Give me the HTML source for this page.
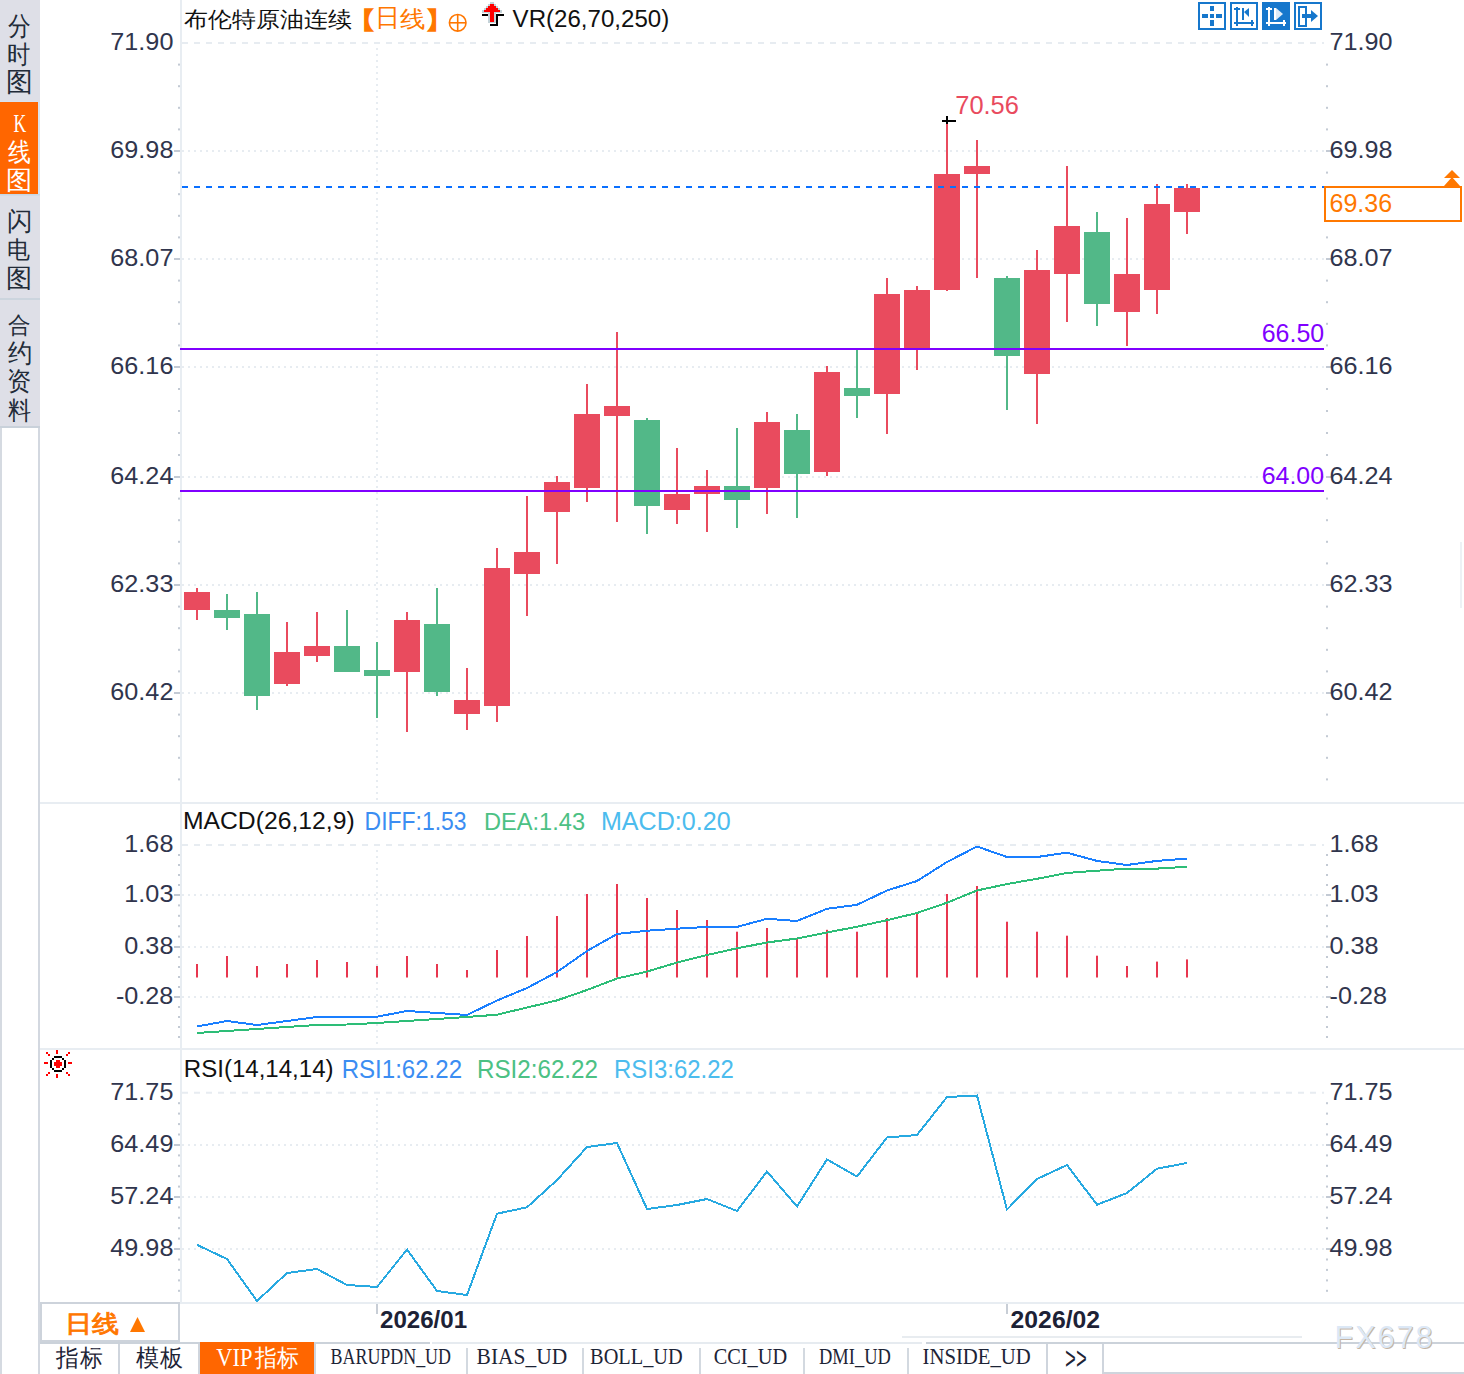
<!DOCTYPE html>
<html><head><meta charset="utf-8">
<style>
html,body{margin:0;padding:0;background:#fff;width:1464px;height:1374px;overflow:hidden;}
svg{position:absolute;left:0;top:0;font-family:"Liberation Sans",sans-serif;}
</style></head>
<body>
<svg width="1464" height="1374" viewBox="0 0 1464 1374">
<rect x="0" y="0" width="40" height="428" fill="#dedfe7"/>
<rect x="0" y="102" width="38" height="92" fill="#ff6600"/>
<rect x="0" y="101" width="40" height="1" fill="#d9e3ee"/>
<rect x="38" y="102" width="2" height="92" fill="#d9e3ee"/>
<rect x="0" y="194" width="40" height="1.5" fill="#c8d7e4"/>
<rect x="0" y="298" width="40" height="2" fill="#ccd5de"/>
<rect x="0" y="426" width="40" height="2" fill="#c9d1da"/>
<rect x="0" y="428" width="2" height="946" fill="#d5dae1"/>
<rect x="38" y="428" width="2" height="946" fill="#d3d8e0"/>
<text transform="translate(8.0,34.73) scale(0.9565,1.0909)" font-size="24" font-weight="normal" style='font-family:"Liberation Sans",sans-serif' fill="#222b38" >分</text>
<text transform="translate(7.04,62.52) scale(0.9565,1.0261)" font-size="24" font-weight="normal" style='font-family:"Liberation Sans",sans-serif' fill="#222b38" >时</text>
<text transform="translate(5.8,91.07) scale(1.1,1.1091)" font-size="24" font-weight="normal" style='font-family:"Liberation Sans",sans-serif' fill="#222b38" >图</text>
<text transform="translate(13.6,132.0) scale(0.8,1.1429)" font-size="22" font-weight="normal" style='font-family:"Liberation Serif",serif' fill="#ffffff" >K</text>
<text transform="translate(8.0,160.74) scale(0.9565,1.087)" font-size="24" font-weight="normal" style='font-family:"Liberation Sans",sans-serif' fill="#ffffff" >线</text>
<text transform="translate(5.8,188.73) scale(1.1,1.0909)" font-size="24" font-weight="normal" style='font-family:"Liberation Sans",sans-serif' fill="#ffffff" >图</text>
<text transform="translate(6.95,230.38) scale(1.0476,1.0727)" font-size="24" font-weight="normal" style='font-family:"Liberation Sans",sans-serif' fill="#222b38" >闪</text>
<text transform="translate(7.04,258.0) scale(0.9565,1.0)" font-size="24" font-weight="normal" style='font-family:"Liberation Sans",sans-serif' fill="#222b38" >电</text>
<text transform="translate(5.8,286.73) scale(1.1,1.0909)" font-size="24" font-weight="normal" style='font-family:"Liberation Sans",sans-serif' fill="#222b38" >图</text>
<text transform="translate(8.0,333.1) scale(0.9565,0.975)" font-size="24" font-weight="normal" style='font-family:"Liberation Sans",sans-serif' fill="#222b38" >合</text>
<text transform="translate(8.0,362.3) scale(1.0,1.0682)" font-size="24" font-weight="normal" style='font-family:"Liberation Sans",sans-serif' fill="#222b38" >约</text>
<text transform="translate(7.0,390.38) scale(1.0,1.0727)" font-size="24" font-weight="normal" style='font-family:"Liberation Sans",sans-serif' fill="#222b38" >资</text>
<text transform="translate(8.0,418.7) scale(0.9565,1.0348)" font-size="24" font-weight="normal" style='font-family:"Liberation Sans",sans-serif' fill="#222b38" >料</text>
<rect x="40" y="802" width="1424" height="2" fill="#e8edf2"/>
<rect x="40" y="1048" width="1424" height="2" fill="#e8edf2"/>
<rect x="40" y="1302" width="1424" height="2" fill="#e8edf2"/>
<rect x="180" y="0" width="2" height="1302" fill="#e8edf2"/>
<line x1="182" y1="43" x2="1324" y2="43" stroke="#e7ecf1" stroke-width="2" stroke-dasharray="6 6"/>
<line x1="182" y1="151" x2="1324" y2="151" stroke="#e7ecf1" stroke-width="2" stroke-dasharray="2 4"/>
<line x1="182" y1="259" x2="1324" y2="259" stroke="#e7ecf1" stroke-width="2" stroke-dasharray="2 4"/>
<line x1="182" y1="367" x2="1324" y2="367" stroke="#e7ecf1" stroke-width="2" stroke-dasharray="2 4"/>
<line x1="182" y1="477" x2="1324" y2="477" stroke="#e7ecf1" stroke-width="2" stroke-dasharray="2 4"/>
<line x1="182" y1="585" x2="1324" y2="585" stroke="#e7ecf1" stroke-width="2" stroke-dasharray="2 4"/>
<line x1="182" y1="693" x2="1324" y2="693" stroke="#e7ecf1" stroke-width="2" stroke-dasharray="2 4"/>
<rect x="178" y="63.6" width="2" height="2" fill="#c3cad4"/>
<rect x="1326" y="63.6" width="2" height="2" fill="#c3cad4"/>
<rect x="178" y="85.2" width="2" height="2" fill="#c3cad4"/>
<rect x="1326" y="85.2" width="2" height="2" fill="#c3cad4"/>
<rect x="178" y="106.8" width="2" height="2" fill="#c3cad4"/>
<rect x="1326" y="106.8" width="2" height="2" fill="#c3cad4"/>
<rect x="178" y="128.4" width="2" height="2" fill="#c3cad4"/>
<rect x="1326" y="128.4" width="2" height="2" fill="#c3cad4"/>
<rect x="178" y="171.6" width="2" height="2" fill="#c3cad4"/>
<rect x="1326" y="171.6" width="2" height="2" fill="#c3cad4"/>
<rect x="178" y="193.2" width="2" height="2" fill="#c3cad4"/>
<rect x="1326" y="193.2" width="2" height="2" fill="#c3cad4"/>
<rect x="178" y="214.8" width="2" height="2" fill="#c3cad4"/>
<rect x="1326" y="214.8" width="2" height="2" fill="#c3cad4"/>
<rect x="178" y="236.4" width="2" height="2" fill="#c3cad4"/>
<rect x="1326" y="236.4" width="2" height="2" fill="#c3cad4"/>
<rect x="178" y="279.6" width="2" height="2" fill="#c3cad4"/>
<rect x="1326" y="279.6" width="2" height="2" fill="#c3cad4"/>
<rect x="178" y="301.2" width="2" height="2" fill="#c3cad4"/>
<rect x="1326" y="301.2" width="2" height="2" fill="#c3cad4"/>
<rect x="178" y="322.8" width="2" height="2" fill="#c3cad4"/>
<rect x="1326" y="322.8" width="2" height="2" fill="#c3cad4"/>
<rect x="178" y="344.4" width="2" height="2" fill="#c3cad4"/>
<rect x="1326" y="344.4" width="2" height="2" fill="#c3cad4"/>
<rect x="178" y="388.0" width="2" height="2" fill="#c3cad4"/>
<rect x="1326" y="388.0" width="2" height="2" fill="#c3cad4"/>
<rect x="178" y="410.0" width="2" height="2" fill="#c3cad4"/>
<rect x="1326" y="410.0" width="2" height="2" fill="#c3cad4"/>
<rect x="178" y="432.0" width="2" height="2" fill="#c3cad4"/>
<rect x="1326" y="432.0" width="2" height="2" fill="#c3cad4"/>
<rect x="178" y="454.0" width="2" height="2" fill="#c3cad4"/>
<rect x="1326" y="454.0" width="2" height="2" fill="#c3cad4"/>
<rect x="178" y="497.6" width="2" height="2" fill="#c3cad4"/>
<rect x="1326" y="497.6" width="2" height="2" fill="#c3cad4"/>
<rect x="178" y="519.2" width="2" height="2" fill="#c3cad4"/>
<rect x="1326" y="519.2" width="2" height="2" fill="#c3cad4"/>
<rect x="178" y="540.8" width="2" height="2" fill="#c3cad4"/>
<rect x="1326" y="540.8" width="2" height="2" fill="#c3cad4"/>
<rect x="178" y="562.4" width="2" height="2" fill="#c3cad4"/>
<rect x="1326" y="562.4" width="2" height="2" fill="#c3cad4"/>
<rect x="178" y="605.6" width="2" height="2" fill="#c3cad4"/>
<rect x="1326" y="605.6" width="2" height="2" fill="#c3cad4"/>
<rect x="178" y="627.2" width="2" height="2" fill="#c3cad4"/>
<rect x="1326" y="627.2" width="2" height="2" fill="#c3cad4"/>
<rect x="178" y="648.8" width="2" height="2" fill="#c3cad4"/>
<rect x="1326" y="648.8" width="2" height="2" fill="#c3cad4"/>
<rect x="178" y="670.4" width="2" height="2" fill="#c3cad4"/>
<rect x="1326" y="670.4" width="2" height="2" fill="#c3cad4"/>
<rect x="178" y="713.6" width="2" height="2" fill="#c3cad4"/>
<rect x="1326" y="713.6" width="2" height="2" fill="#c3cad4"/>
<rect x="178" y="735.2" width="2" height="2" fill="#c3cad4"/>
<rect x="1326" y="735.2" width="2" height="2" fill="#c3cad4"/>
<rect x="178" y="756.8" width="2" height="2" fill="#c3cad4"/>
<rect x="1326" y="756.8" width="2" height="2" fill="#c3cad4"/>
<rect x="178" y="778.4" width="2" height="2" fill="#c3cad4"/>
<rect x="1326" y="778.4" width="2" height="2" fill="#c3cad4"/>
<rect x="174" y="150.0" width="6" height="2" fill="#c3cad4"/>
<rect x="1326" y="150.0" width="5" height="2" fill="#c3cad4"/>
<rect x="174" y="258.0" width="6" height="2" fill="#c3cad4"/>
<rect x="1326" y="258.0" width="5" height="2" fill="#c3cad4"/>
<rect x="174" y="366.0" width="6" height="2" fill="#c3cad4"/>
<rect x="1326" y="366.0" width="5" height="2" fill="#c3cad4"/>
<rect x="174" y="476.0" width="6" height="2" fill="#c3cad4"/>
<rect x="1326" y="476.0" width="5" height="2" fill="#c3cad4"/>
<rect x="174" y="584.0" width="6" height="2" fill="#c3cad4"/>
<rect x="1326" y="584.0" width="5" height="2" fill="#c3cad4"/>
<rect x="174" y="692.0" width="6" height="2" fill="#c3cad4"/>
<rect x="1326" y="692.0" width="5" height="2" fill="#c3cad4"/>
<line x1="377" y1="48" x2="377" y2="802" stroke="#e7ecf1" stroke-width="2" stroke-dasharray="2 4"/>
<line x1="377" y1="850" x2="377" y2="1048" stroke="#e7ecf1" stroke-width="2" stroke-dasharray="2 4"/>
<line x1="377" y1="1098" x2="377" y2="1302" stroke="#e7ecf1" stroke-width="2" stroke-dasharray="2 4"/>
<text transform="translate(173.4,49.8) scale(1.05,1.03)" font-size="24" fill="#30354d" text-anchor="end">71.90</text>
<text transform="translate(1329.5,49.8) scale(1.05,1.03)" font-size="24" fill="#30354d">71.90</text>
<text transform="translate(173.4,157.8) scale(1.05,1.03)" font-size="24" fill="#30354d" text-anchor="end">69.98</text>
<text transform="translate(1329.5,157.8) scale(1.05,1.03)" font-size="24" fill="#30354d">69.98</text>
<text transform="translate(173.4,265.8) scale(1.05,1.03)" font-size="24" fill="#30354d" text-anchor="end">68.07</text>
<text transform="translate(1329.5,265.8) scale(1.05,1.03)" font-size="24" fill="#30354d">68.07</text>
<text transform="translate(173.4,373.8) scale(1.05,1.03)" font-size="24" fill="#30354d" text-anchor="end">66.16</text>
<text transform="translate(1329.5,373.8) scale(1.05,1.03)" font-size="24" fill="#30354d">66.16</text>
<text transform="translate(173.4,483.8) scale(1.05,1.03)" font-size="24" fill="#30354d" text-anchor="end">64.24</text>
<text transform="translate(1329.5,483.8) scale(1.05,1.03)" font-size="24" fill="#30354d">64.24</text>
<text transform="translate(173.4,591.8) scale(1.05,1.03)" font-size="24" fill="#30354d" text-anchor="end">62.33</text>
<text transform="translate(1329.5,591.8) scale(1.05,1.03)" font-size="24" fill="#30354d">62.33</text>
<text transform="translate(173.4,699.8) scale(1.05,1.03)" font-size="24" fill="#30354d" text-anchor="end">60.42</text>
<text transform="translate(1329.5,699.8) scale(1.05,1.03)" font-size="24" fill="#30354d">60.42</text>
<rect x="196" y="588" width="2" height="32" fill="#e94b5e"/>
<rect x="184" y="592" width="26" height="18" fill="#e94b5e"/>
<rect x="226" y="594" width="2" height="36" fill="#52b888"/>
<rect x="214" y="610" width="26" height="8" fill="#52b888"/>
<rect x="256" y="592" width="2" height="118" fill="#52b888"/>
<rect x="244" y="614" width="26" height="82" fill="#52b888"/>
<rect x="286" y="622" width="2" height="64" fill="#e94b5e"/>
<rect x="274" y="652" width="26" height="32" fill="#e94b5e"/>
<rect x="316" y="612" width="2" height="50" fill="#e94b5e"/>
<rect x="304" y="646" width="26" height="10" fill="#e94b5e"/>
<rect x="346" y="610" width="2" height="62" fill="#52b888"/>
<rect x="334" y="646" width="26" height="26" fill="#52b888"/>
<rect x="376" y="642" width="2" height="76" fill="#52b888"/>
<rect x="364" y="670" width="26" height="6" fill="#52b888"/>
<rect x="406" y="612" width="2" height="120" fill="#e94b5e"/>
<rect x="394" y="620" width="26" height="52" fill="#e94b5e"/>
<rect x="436" y="588" width="2" height="108" fill="#52b888"/>
<rect x="424" y="624" width="26" height="68" fill="#52b888"/>
<rect x="466" y="668" width="2" height="62" fill="#e94b5e"/>
<rect x="454" y="700" width="26" height="14" fill="#e94b5e"/>
<rect x="496" y="548" width="2" height="174" fill="#e94b5e"/>
<rect x="484" y="568" width="26" height="138" fill="#e94b5e"/>
<rect x="526" y="496" width="2" height="120" fill="#e94b5e"/>
<rect x="514" y="552" width="26" height="22" fill="#e94b5e"/>
<rect x="556" y="476" width="2" height="88" fill="#e94b5e"/>
<rect x="544" y="482" width="26" height="30" fill="#e94b5e"/>
<rect x="586" y="384" width="2" height="118" fill="#e94b5e"/>
<rect x="574" y="414" width="26" height="74" fill="#e94b5e"/>
<rect x="616" y="332" width="2" height="190" fill="#e94b5e"/>
<rect x="604" y="406" width="26" height="10" fill="#e94b5e"/>
<rect x="646" y="418" width="2" height="116" fill="#52b888"/>
<rect x="634" y="420" width="26" height="86" fill="#52b888"/>
<rect x="676" y="448" width="2" height="76" fill="#e94b5e"/>
<rect x="664" y="494" width="26" height="16" fill="#e94b5e"/>
<rect x="706" y="470" width="2" height="62" fill="#e94b5e"/>
<rect x="694" y="486" width="26" height="8" fill="#e94b5e"/>
<rect x="736" y="428" width="2" height="100" fill="#52b888"/>
<rect x="724" y="486" width="26" height="14" fill="#52b888"/>
<rect x="766" y="412" width="2" height="102" fill="#e94b5e"/>
<rect x="754" y="422" width="26" height="66" fill="#e94b5e"/>
<rect x="796" y="414" width="2" height="104" fill="#52b888"/>
<rect x="784" y="430" width="26" height="44" fill="#52b888"/>
<rect x="826" y="366" width="2" height="110" fill="#e94b5e"/>
<rect x="814" y="372" width="26" height="100" fill="#e94b5e"/>
<rect x="856" y="349" width="2" height="69" fill="#52b888"/>
<rect x="844" y="388" width="26" height="8" fill="#52b888"/>
<rect x="886" y="278" width="2" height="156" fill="#e94b5e"/>
<rect x="874" y="294" width="26" height="100" fill="#e94b5e"/>
<rect x="916" y="286" width="2" height="84" fill="#e94b5e"/>
<rect x="904" y="290" width="26" height="59" fill="#e94b5e"/>
<rect x="946" y="121" width="2" height="170" fill="#e94b5e"/>
<rect x="934" y="174" width="26" height="116" fill="#e94b5e"/>
<rect x="976" y="140" width="2" height="138" fill="#e94b5e"/>
<rect x="964" y="166" width="26" height="8" fill="#e94b5e"/>
<rect x="1006" y="276" width="2" height="134" fill="#52b888"/>
<rect x="994" y="278" width="26" height="78" fill="#52b888"/>
<rect x="1036" y="250" width="2" height="174" fill="#e94b5e"/>
<rect x="1024" y="270" width="26" height="104" fill="#e94b5e"/>
<rect x="1066" y="166" width="2" height="156" fill="#e94b5e"/>
<rect x="1054" y="226" width="26" height="48" fill="#e94b5e"/>
<rect x="1096" y="212" width="2" height="114" fill="#52b888"/>
<rect x="1084" y="232" width="26" height="72" fill="#52b888"/>
<rect x="1126" y="218" width="2" height="128" fill="#e94b5e"/>
<rect x="1114" y="274" width="26" height="38" fill="#e94b5e"/>
<rect x="1156" y="184" width="2" height="130" fill="#e94b5e"/>
<rect x="1144" y="204" width="26" height="86" fill="#e94b5e"/>
<rect x="1186" y="184" width="2" height="50" fill="#e94b5e"/>
<rect x="1174" y="188" width="26" height="24" fill="#e94b5e"/>
<rect x="180" y="348" width="1144" height="2" fill="#8000ff"/>
<rect x="180" y="490" width="1144" height="2" fill="#8000ff"/>
<text transform="translate(1261.76,341.8) scale(1.0379,1.0588)" font-size="24" font-weight="normal" style='font-family:"Liberation Sans",sans-serif' fill="#8000ff" >66.50</text>
<text transform="translate(1261.76,483.6) scale(1.0379,1.0176)" font-size="24" font-weight="normal" style='font-family:"Liberation Sans",sans-serif' fill="#8000ff" >64.00</text>
<line x1="182" y1="187" x2="1324" y2="187" stroke="#0a70ff" stroke-width="2" stroke-dasharray="6 6"/>
<rect x="1325" y="187" width="136" height="34" fill="#fff" stroke="#ff7800" stroke-width="2"/>
<text transform="translate(1329.46,211.8) scale(1.0431,1.0529)" font-size="24" font-weight="normal" style='font-family:"Liberation Sans",sans-serif' fill="#ff7800" >69.36</text>
<path d="M1452 170 L1460 178 L1444 178 Z M1452 177 L1460 186 L1444 186 Z" fill="#ff7800"/>
<rect x="942" y="120" width="14" height="2" fill="#000"/>
<rect x="946" y="116" width="2" height="8" fill="#000"/>
<text transform="translate(955.24,114.0) scale(1.0603,1.0588)" font-size="24" font-weight="normal" style='font-family:"Liberation Sans",sans-serif' fill="#e94b5e" >70.56</text>
<text transform="translate(184.2,26.52) scale(1.0048,0.9261)" font-size="24" font-weight="normal" style='font-family:"Liberation Sans",sans-serif' fill="#111111" >布伦特原油连续</text>
<text transform="translate(339.0,28.5) scale(1.6667,1.0348)" font-size="24" font-weight="normal" style='font-family:"Liberation Sans",sans-serif' fill="#ff7700" >【</text>
<text transform="translate(375.29,26.4) scale(1.0353,1.0333)" font-size="24" font-weight="normal" style='font-family:"Liberation Sans",sans-serif' fill="#ff7700" >日</text>
<text transform="translate(400.0,26.67) scale(1.0435,0.9435)" font-size="24" font-weight="normal" style='font-family:"Liberation Sans",sans-serif' fill="#ff7700" >线</text>
<text transform="translate(421.6,28.5) scale(1.5667,1.0348)" font-size="24" font-weight="normal" style='font-family:"Liberation Sans",sans-serif' fill="#ff7700" >】</text>
<circle cx="457.7" cy="22.8" r="8.3" fill="none" stroke="#ff7700" stroke-width="1.6"/>
<line x1="449.5" y1="22.8" x2="466" y2="22.8" stroke="#ff7700" stroke-width="1.6"/>
<line x1="457.7" y1="14.5" x2="457.7" y2="31" stroke="#ff7700" stroke-width="1.6"/>
<g fill="#c4d2d8"><rect x="490" y="2" width="4" height="2"/><rect x="488" y="4" width="2" height="2"/><rect x="494" y="4" width="2" height="2"/><rect x="486" y="6" width="2" height="2"/><rect x="496" y="6" width="2" height="2"/><rect x="484" y="8" width="2" height="2"/><rect x="498" y="8" width="2" height="2"/><rect x="482" y="10" width="2" height="3"/><rect x="500" y="10" width="2" height="3"/><rect x="482" y="12" width="20" height="1"/><rect x="488" y="12" width="2" height="11"/><rect x="494" y="12" width="2" height="11"/><rect x="488" y="22" width="8" height="1"/></g>
<g fill="#ff0000"><rect x="490" y="4" width="4" height="2"/><rect x="488" y="6" width="8" height="2"/><rect x="486" y="8" width="12" height="2"/><rect x="484" y="10" width="16" height="2"/><rect x="490" y="12" width="4" height="10"/></g>
<g fill="#000"><rect x="482" y="14" width="6" height="2"/><rect x="496" y="14" width="8" height="2"/><rect x="496" y="14" width="2" height="12"/><rect x="490" y="24" width="8" height="2"/></g>
<text transform="translate(512.6,26.79) scale(1.0039,0.9818)" font-size="24" font-weight="normal" style='font-family:"Liberation Sans",sans-serif' fill="#111111" >VR(26,70,250)</text>
<rect x="1199" y="3" width="26" height="26" fill="#fff" stroke="#1677cc" stroke-width="2"/>
<rect x="1231" y="3" width="26" height="26" fill="#fff" stroke="#1677cc" stroke-width="2"/>
<rect x="1262" y="2" width="28" height="28" fill="#1677cc"/>
<rect x="1295" y="3" width="26" height="26" fill="#fff" stroke="#1677cc" stroke-width="2"/>
<g fill="#1677cc"><rect x="1210" y="6" width="4" height="5"/><rect x="1210" y="14" width="4" height="4"/><rect x="1210" y="20" width="4" height="6"/><rect x="1202" y="14" width="6" height="4"/><rect x="1216" y="14" width="6" height="4"/></g>
<g fill="#1677cc"><rect x="1236" y="7" width="2" height="19"/><rect x="1234" y="8" width="6" height="2"/><rect x="1234" y="22" width="20" height="2"/><rect x="1251" y="20" width="2" height="6"/><rect x="1242" y="8" width="2" height="12"/><path d="M1244 12 L1249 8 L1249 17 Z"/></g>
<g fill="#fff"><rect x="1268" y="7" width="2" height="19"/><rect x="1266" y="8" width="6" height="2"/><rect x="1266" y="22" width="20" height="2"/><rect x="1283" y="20" width="2" height="6"/><rect x="1274" y="8" width="2" height="12"/><path d="M1276 8 L1283 14 L1276 20 Z" opacity="0.85"/></g>
<g fill="#1677cc"><rect x="1299" y="7" width="7" height="19" fill="none" stroke="#1677cc" stroke-width="2"/><rect x="1302" y="14" width="9" height="4"/><path d="M1311 10 L1318 16 L1311 22 Z"/></g>
<line x1="182" y1="845" x2="1324" y2="845" stroke="#e7ecf1" stroke-width="2" stroke-dasharray="6 6"/>
<line x1="182" y1="895" x2="1324" y2="895" stroke="#e7ecf1" stroke-width="2" stroke-dasharray="2 4"/>
<line x1="182" y1="947" x2="1324" y2="947" stroke="#e7ecf1" stroke-width="2" stroke-dasharray="2 4"/>
<line x1="182" y1="997" x2="1324" y2="997" stroke="#e7ecf1" stroke-width="2" stroke-dasharray="2 4"/>
<rect x="178" y="854.0" width="2" height="2" fill="#c3cad4"/>
<rect x="1326" y="854.0" width="2" height="2" fill="#c3cad4"/>
<rect x="178" y="864.0" width="2" height="2" fill="#c3cad4"/>
<rect x="1326" y="864.0" width="2" height="2" fill="#c3cad4"/>
<rect x="178" y="874.0" width="2" height="2" fill="#c3cad4"/>
<rect x="1326" y="874.0" width="2" height="2" fill="#c3cad4"/>
<rect x="178" y="884.0" width="2" height="2" fill="#c3cad4"/>
<rect x="1326" y="884.0" width="2" height="2" fill="#c3cad4"/>
<rect x="178" y="904.4" width="2" height="2" fill="#c3cad4"/>
<rect x="1326" y="904.4" width="2" height="2" fill="#c3cad4"/>
<rect x="178" y="914.8" width="2" height="2" fill="#c3cad4"/>
<rect x="1326" y="914.8" width="2" height="2" fill="#c3cad4"/>
<rect x="178" y="925.2" width="2" height="2" fill="#c3cad4"/>
<rect x="1326" y="925.2" width="2" height="2" fill="#c3cad4"/>
<rect x="178" y="935.6" width="2" height="2" fill="#c3cad4"/>
<rect x="1326" y="935.6" width="2" height="2" fill="#c3cad4"/>
<rect x="178" y="956.0" width="2" height="2" fill="#c3cad4"/>
<rect x="1326" y="956.0" width="2" height="2" fill="#c3cad4"/>
<rect x="178" y="966.0" width="2" height="2" fill="#c3cad4"/>
<rect x="1326" y="966.0" width="2" height="2" fill="#c3cad4"/>
<rect x="178" y="976.0" width="2" height="2" fill="#c3cad4"/>
<rect x="1326" y="976.0" width="2" height="2" fill="#c3cad4"/>
<rect x="178" y="986.0" width="2" height="2" fill="#c3cad4"/>
<rect x="1326" y="986.0" width="2" height="2" fill="#c3cad4"/>
<rect x="178" y="1006.0" width="2" height="2" fill="#c3cad4"/>
<rect x="1326" y="1006.0" width="2" height="2" fill="#c3cad4"/>
<rect x="178" y="1016.0" width="2" height="2" fill="#c3cad4"/>
<rect x="1326" y="1016.0" width="2" height="2" fill="#c3cad4"/>
<rect x="178" y="1026.0" width="2" height="2" fill="#c3cad4"/>
<rect x="1326" y="1026.0" width="2" height="2" fill="#c3cad4"/>
<rect x="178" y="1036.0" width="2" height="2" fill="#c3cad4"/>
<rect x="1326" y="1036.0" width="2" height="2" fill="#c3cad4"/>
<rect x="174" y="894.0" width="6" height="2" fill="#c3cad4"/>
<rect x="1326" y="894.0" width="5" height="2" fill="#c3cad4"/>
<rect x="174" y="946.0" width="6" height="2" fill="#c3cad4"/>
<rect x="1326" y="946.0" width="5" height="2" fill="#c3cad4"/>
<rect x="174" y="996.0" width="6" height="2" fill="#c3cad4"/>
<rect x="1326" y="996.0" width="5" height="2" fill="#c3cad4"/>
<text transform="translate(173.4,851.8) scale(1.05,1.03)" font-size="24" fill="#30354d" text-anchor="end">1.68</text>
<text transform="translate(1329.5,851.8) scale(1.05,1.03)" font-size="24" fill="#30354d">1.68</text>
<text transform="translate(173.4,901.8) scale(1.05,1.03)" font-size="24" fill="#30354d" text-anchor="end">1.03</text>
<text transform="translate(1329.5,901.8) scale(1.05,1.03)" font-size="24" fill="#30354d">1.03</text>
<text transform="translate(173.4,953.8) scale(1.05,1.03)" font-size="24" fill="#30354d" text-anchor="end">0.38</text>
<text transform="translate(1329.5,953.8) scale(1.05,1.03)" font-size="24" fill="#30354d">0.38</text>
<text transform="translate(173.4,1003.8) scale(1.05,1.03)" font-size="24" fill="#30354d" text-anchor="end">-0.28</text>
<text transform="translate(1329.5,1003.8) scale(1.05,1.03)" font-size="24" fill="#30354d">-0.28</text>
<text transform="translate(182.94,828.96) scale(1.0305,0.9682)" font-size="24" font-weight="normal" style='font-family:"Liberation Sans",sans-serif' fill="#111111" >MACD(26,12,9)</text>
<text transform="translate(364.59,829.9) scale(0.9558,1.0353)" font-size="24" font-weight="normal" style='font-family:"Liberation Sans",sans-serif' fill="#3b8df2" >DIFF:1.53</text>
<text transform="translate(483.93,829.9) scale(0.985,1.0353)" font-size="24" font-weight="normal" style='font-family:"Liberation Sans",sans-serif' fill="#4cc184" >DEA:1.43</text>
<text transform="translate(600.91,829.9) scale(1.0463,1.0353)" font-size="24" font-weight="normal" style='font-family:"Liberation Sans",sans-serif' fill="#4cbcee" >MACD:0.20</text>
<rect x="196" y="964" width="2" height="13.5" fill="#e8374f"/>
<rect x="226" y="956" width="2" height="21.5" fill="#e8374f"/>
<rect x="256" y="966" width="2" height="11.5" fill="#e8374f"/>
<rect x="286" y="964" width="2" height="13.5" fill="#e8374f"/>
<rect x="316" y="960" width="2" height="17.5" fill="#e8374f"/>
<rect x="346" y="962" width="2" height="15.5" fill="#e8374f"/>
<rect x="376" y="966" width="2" height="11.5" fill="#e8374f"/>
<rect x="406" y="956" width="2" height="21.5" fill="#e8374f"/>
<rect x="436" y="964" width="2" height="13.5" fill="#e8374f"/>
<rect x="466" y="970" width="2" height="7.5" fill="#e8374f"/>
<rect x="496" y="950" width="2" height="27.5" fill="#e8374f"/>
<rect x="526" y="936" width="2" height="41.5" fill="#e8374f"/>
<rect x="556" y="916" width="2" height="61.5" fill="#e8374f"/>
<rect x="586" y="894" width="2" height="83.5" fill="#e8374f"/>
<rect x="616" y="884" width="2" height="93.5" fill="#e8374f"/>
<rect x="646" y="898" width="2" height="79.5" fill="#e8374f"/>
<rect x="676" y="910" width="2" height="67.5" fill="#e8374f"/>
<rect x="706" y="920" width="2" height="57.5" fill="#e8374f"/>
<rect x="736" y="931.7" width="2" height="45.8" fill="#e8374f"/>
<rect x="766" y="928" width="2" height="49.5" fill="#e8374f"/>
<rect x="796" y="938.3" width="2" height="39.2" fill="#e8374f"/>
<rect x="826" y="929.8" width="2" height="47.7" fill="#e8374f"/>
<rect x="856" y="931.7" width="2" height="45.8" fill="#e8374f"/>
<rect x="886" y="918" width="2" height="59.5" fill="#e8374f"/>
<rect x="916" y="913.6" width="2" height="63.9" fill="#e8374f"/>
<rect x="946" y="894" width="2" height="83.5" fill="#e8374f"/>
<rect x="976" y="886" width="2" height="91.5" fill="#e8374f"/>
<rect x="1006" y="921.7" width="2" height="55.8" fill="#e8374f"/>
<rect x="1036" y="931.7" width="2" height="45.8" fill="#e8374f"/>
<rect x="1066" y="935.7" width="2" height="41.8" fill="#e8374f"/>
<rect x="1096" y="955.7" width="2" height="21.8" fill="#e8374f"/>
<rect x="1126" y="966" width="2" height="11.5" fill="#e8374f"/>
<rect x="1156" y="961.6" width="2" height="15.9" fill="#e8374f"/>
<rect x="1186" y="959.4" width="2" height="18.1" fill="#e8374f"/>
<polyline points="197,1033 227,1031 257,1029 287,1027 317,1025 347,1024.5 377,1023 407,1021 437,1019 467,1017 497,1014.7 527,1007.5 557,1000.4 587,990 617,978.5 647,971.6 677,962.5 707,955 737,948.3 767,942.5 797,938.5 827,932.5 857,926.7 887,920.2 917,913 947,902.7 977,890.5 1007,884 1037,878.8 1067,873 1097,870.7 1127,868.6 1157,868.6 1187,866.8" fill="none" stroke="#2dbd77" stroke-width="2" shape-rendering="crispEdges"/>
<polyline points="197,1026.5 227,1021 257,1025 287,1021 317,1017 347,1016.7 377,1016.7 407,1011 437,1013 467,1015 497,1000.5 527,988 557,972 587,951 617,934 647,930.7 677,928.7 707,926.9 737,926.9 767,918.8 797,921 827,908.8 857,904.8 887,890.5 917,881 947,862 977,846.5 1007,857 1037,857 1067,852.7 1097,860.9 1127,865 1157,860.9 1187,858.6" fill="none" stroke="#1a7fff" stroke-width="2" shape-rendering="crispEdges"/>
<line x1="182" y1="1092.7" x2="1324" y2="1092.7" stroke="#e7ecf1" stroke-width="2" stroke-dasharray="6 6"/>
<line x1="182" y1="1145" x2="1324" y2="1145" stroke="#e7ecf1" stroke-width="2" stroke-dasharray="2 4"/>
<line x1="182" y1="1197" x2="1324" y2="1197" stroke="#e7ecf1" stroke-width="2" stroke-dasharray="2 4"/>
<line x1="182" y1="1249" x2="1324" y2="1249" stroke="#e7ecf1" stroke-width="2" stroke-dasharray="2 4"/>
<rect x="178" y="1102.2" width="2" height="2" fill="#c3cad4"/>
<rect x="1326" y="1102.2" width="2" height="2" fill="#c3cad4"/>
<rect x="178" y="1112.6" width="2" height="2" fill="#c3cad4"/>
<rect x="1326" y="1112.6" width="2" height="2" fill="#c3cad4"/>
<rect x="178" y="1123.1" width="2" height="2" fill="#c3cad4"/>
<rect x="1326" y="1123.1" width="2" height="2" fill="#c3cad4"/>
<rect x="178" y="1133.5" width="2" height="2" fill="#c3cad4"/>
<rect x="1326" y="1133.5" width="2" height="2" fill="#c3cad4"/>
<rect x="178" y="1154.4" width="2" height="2" fill="#c3cad4"/>
<rect x="1326" y="1154.4" width="2" height="2" fill="#c3cad4"/>
<rect x="178" y="1164.8" width="2" height="2" fill="#c3cad4"/>
<rect x="1326" y="1164.8" width="2" height="2" fill="#c3cad4"/>
<rect x="178" y="1175.2" width="2" height="2" fill="#c3cad4"/>
<rect x="1326" y="1175.2" width="2" height="2" fill="#c3cad4"/>
<rect x="178" y="1185.6" width="2" height="2" fill="#c3cad4"/>
<rect x="1326" y="1185.6" width="2" height="2" fill="#c3cad4"/>
<rect x="178" y="1206.4" width="2" height="2" fill="#c3cad4"/>
<rect x="1326" y="1206.4" width="2" height="2" fill="#c3cad4"/>
<rect x="178" y="1216.8" width="2" height="2" fill="#c3cad4"/>
<rect x="1326" y="1216.8" width="2" height="2" fill="#c3cad4"/>
<rect x="178" y="1227.2" width="2" height="2" fill="#c3cad4"/>
<rect x="1326" y="1227.2" width="2" height="2" fill="#c3cad4"/>
<rect x="178" y="1237.6" width="2" height="2" fill="#c3cad4"/>
<rect x="1326" y="1237.6" width="2" height="2" fill="#c3cad4"/>
<rect x="178" y="1258.5" width="2" height="2" fill="#c3cad4"/>
<rect x="1326" y="1258.5" width="2" height="2" fill="#c3cad4"/>
<rect x="178" y="1268.9" width="2" height="2" fill="#c3cad4"/>
<rect x="1326" y="1268.9" width="2" height="2" fill="#c3cad4"/>
<rect x="178" y="1279.4" width="2" height="2" fill="#c3cad4"/>
<rect x="1326" y="1279.4" width="2" height="2" fill="#c3cad4"/>
<rect x="178" y="1289.8" width="2" height="2" fill="#c3cad4"/>
<rect x="1326" y="1289.8" width="2" height="2" fill="#c3cad4"/>
<rect x="174" y="1144.0" width="6" height="2" fill="#c3cad4"/>
<rect x="1326" y="1144.0" width="5" height="2" fill="#c3cad4"/>
<rect x="174" y="1196.0" width="6" height="2" fill="#c3cad4"/>
<rect x="1326" y="1196.0" width="5" height="2" fill="#c3cad4"/>
<rect x="174" y="1248.0" width="6" height="2" fill="#c3cad4"/>
<rect x="1326" y="1248.0" width="5" height="2" fill="#c3cad4"/>
<text transform="translate(173.4,1099.5) scale(1.05,1.03)" font-size="24" fill="#30354d" text-anchor="end">71.75</text>
<text transform="translate(1329.5,1099.5) scale(1.05,1.03)" font-size="24" fill="#30354d">71.75</text>
<text transform="translate(173.4,1151.8) scale(1.05,1.03)" font-size="24" fill="#30354d" text-anchor="end">64.49</text>
<text transform="translate(1329.5,1151.8) scale(1.05,1.03)" font-size="24" fill="#30354d">64.49</text>
<text transform="translate(173.4,1203.8) scale(1.05,1.03)" font-size="24" fill="#30354d" text-anchor="end">57.24</text>
<text transform="translate(1329.5,1203.8) scale(1.05,1.03)" font-size="24" fill="#30354d">57.24</text>
<text transform="translate(173.4,1255.8) scale(1.05,1.03)" font-size="24" fill="#30354d" text-anchor="end">49.98</text>
<text transform="translate(1329.5,1255.8) scale(1.05,1.03)" font-size="24" fill="#30354d">49.98</text>
<text transform="translate(183.8,1076.67) scale(1.0021,0.9864)" font-size="24" font-weight="normal" style='font-family:"Liberation Sans",sans-serif' fill="#111111" >RSI(14,14,14)</text>
<text transform="translate(341.69,1077.6) scale(1.0026,1.0412)" font-size="24" font-weight="normal" style='font-family:"Liberation Sans",sans-serif' fill="#3b8df2" >RSI1:62.22</text>
<text transform="translate(476.98,1077.6) scale(1.0085,1.0412)" font-size="24" font-weight="normal" style='font-family:"Liberation Sans",sans-serif' fill="#4cc184" >RSI2:62.22</text>
<text transform="translate(614.0,1077.6) scale(0.9983,1.0412)" font-size="24" font-weight="normal" style='font-family:"Liberation Sans",sans-serif' fill="#4cbcee" >RSI3:62.22</text>
<polyline points="197,1244.8 227,1259 257,1301 287,1273 317,1269 347,1285 377,1287 407,1249.5 437,1291 467,1295 497,1213.7 527,1207.3 557,1180 587,1147 617,1143 647,1209 677,1205 707,1199 737,1211 767,1171.5 797,1206.5 827,1159.4 857,1176.5 887,1137.5 917,1135 947,1097 977,1095.5 1007,1209.5 1037,1179 1067,1165 1097,1204.7 1127,1193 1157,1168.7 1187,1163" fill="none" stroke="#27a9e1" stroke-width="2" shape-rendering="crispEdges"/>
<g fill="#ff0000"><rect x="56" y="1050" width="2" height="4"/><rect x="56" y="1074" width="2" height="4"/><rect x="44" y="1062" width="4" height="2"/><rect x="68" y="1062" width="4" height="2"/><rect x="46" y="1052" width="2" height="2"/><rect x="48" y="1054" width="2" height="2"/><rect x="68" y="1052" width="2" height="2"/><rect x="66" y="1054" width="2" height="2"/><rect x="48" y="1072" width="2" height="2"/><rect x="46" y="1074" width="2" height="2"/><rect x="66" y="1072" width="2" height="2"/><rect x="68" y="1074" width="2" height="2"/><rect x="56" y="1060" width="4" height="8"/><rect x="54" y="1062" width="8" height="4"/></g>
<g fill="#000"><rect x="54" y="1056" width="8" height="2"/><rect x="54" y="1070" width="8" height="2"/><rect x="50" y="1060" width="2" height="8"/><rect x="64" y="1060" width="2" height="8"/><rect x="52" y="1058" width="2" height="2"/><rect x="62" y="1058" width="2" height="2"/><rect x="52" y="1068" width="2" height="2"/><rect x="62" y="1068" width="2" height="2"/></g>
<rect x="376" y="1304" width="2" height="10" fill="#c8ced6"/>
<rect x="1006" y="1304" width="2" height="10" fill="#c8ced6"/>
<text transform="translate(380.0,1327.7) scale(1.0046,0.9833)" font-size="24" font-weight="bold" style='font-family:"Liberation Sans",sans-serif' fill="#1d2236" >2026/01</text>
<text transform="translate(1010.6,1328.0) scale(1.0314,0.9833)" font-size="24" font-weight="bold" style='font-family:"Liberation Sans",sans-serif' fill="#1d2236" >2026/02</text>
<rect x="41" y="1303" width="138" height="38" fill="#fff" stroke="#cdd3db" stroke-width="2"/>
<text transform="translate(65.47,1332.45) scale(1.1091,0.9826)" font-size="24" font-weight="normal" style='font-family:"Liberation Sans",sans-serif' fill="#ff7700" stroke="#ff7700" stroke-width="0.9">日线</text>
<path d="M137.5 1317 L145 1332 L130 1332 Z" fill="#ff7700"/>
<rect x="902" y="1336" width="400" height="2" fill="#e8ecf0"/>
<rect x="1460" y="542" width="2" height="66" fill="#edf1f5"/>
<rect x="40" y="1342" width="390" height="2" fill="#cbd2da"/>
<rect x="432" y="1342" width="490" height="2" fill="#e6ebf0"/>
<rect x="926" y="1342" width="538" height="2" fill="#cbd2da"/>
<rect x="200" y="1342" width="114" height="32" fill="#ff6600"/>
<rect x="118" y="1344" width="2" height="30" fill="#cfd5dd"/>
<rect x="198" y="1344" width="2" height="30" fill="#cfd5dd"/>
<rect x="314" y="1344" width="2" height="30" fill="#cfd5dd"/>
<rect x="1046" y="1344" width="2" height="30" fill="#cfd5dd"/>
<rect x="1102" y="1344" width="2" height="30" fill="#cfd5dd"/>
<rect x="466" y="1348" width="2" height="26" fill="#d3d9e0"/>
<rect x="582" y="1348" width="2" height="26" fill="#d3d9e0"/>
<rect x="699" y="1348" width="2" height="26" fill="#d3d9e0"/>
<rect x="803" y="1348" width="2" height="26" fill="#d3d9e0"/>
<rect x="907" y="1348" width="2" height="26" fill="#d3d9e0"/>
<rect x="1104" y="1372" width="360" height="2" fill="#cfd5dd"/>
<text transform="translate(56.2,1366.35) scale(0.9681,1.0174)" font-size="24" font-weight="normal" style='font-family:"Liberation Sans",sans-serif' fill="#1d2436" >指标</text>
<text transform="translate(136.0,1366.35) scale(0.983,1.0174)" font-size="24" font-weight="normal" style='font-family:"Liberation Sans",sans-serif' fill="#1d2436" >模板</text>
<text transform="translate(216.3,1366.0) scale(1.02,1.1429)" font-size="22" font-weight="normal" style='font-family:"Liberation Serif",serif' fill="#ffffff" >VIP</text>
<text transform="translate(254.6,1366.35) scale(0.9298,1.0174)" font-size="24" font-weight="normal" style='font-family:"Liberation Sans",sans-serif' fill="#ffffff" >指标</text>
<text transform="translate(330.59,1363.82) scale(0.8144,1.0588)" font-size="22" font-weight="normal" style='font-family:"Liberation Serif",serif' fill="#1d2436" >BARUPDN_UD</text>
<text transform="translate(476.62,1363.82) scale(0.9758,1.0588)" font-size="22" font-weight="normal" style='font-family:"Liberation Serif",serif' fill="#1d2436" >BIAS_UD</text>
<text transform="translate(590.08,1363.82) scale(0.9242,1.0588)" font-size="22" font-weight="normal" style='font-family:"Liberation Serif",serif' fill="#1d2436" >BOLL_UD</text>
<text transform="translate(713.68,1363.82) scale(0.9244,1.0588)" font-size="22" font-weight="normal" style='font-family:"Liberation Serif",serif' fill="#1d2436" >CCI_UD</text>
<text transform="translate(818.96,1363.82) scale(0.8405,1.0588)" font-size="22" font-weight="normal" style='font-family:"Liberation Serif",serif' fill="#1d2436" >DMI_UD</text>
<text transform="translate(922.56,1363.82) scale(0.9425,1.0588)" font-size="22" font-weight="normal" style='font-family:"Liberation Serif",serif' fill="#1d2436" >INSIDE_UD</text>
<text transform="translate(1065.09,1369.2) scale(0.9091,1.6)" font-size="20" font-weight="normal" style='font-family:"Liberation Mono",monospace' fill="#1d2436" >&gt;&gt;</text>
<text x="1335.5" y="1349.3" font-size="30.5" fill="#c4b4a4" letter-spacing="2">FX678</text>
<text x="1334.5" y="1348.3" font-size="30.5" fill="#dce8f6" letter-spacing="2">FX678</text>
</svg>
</body></html>
